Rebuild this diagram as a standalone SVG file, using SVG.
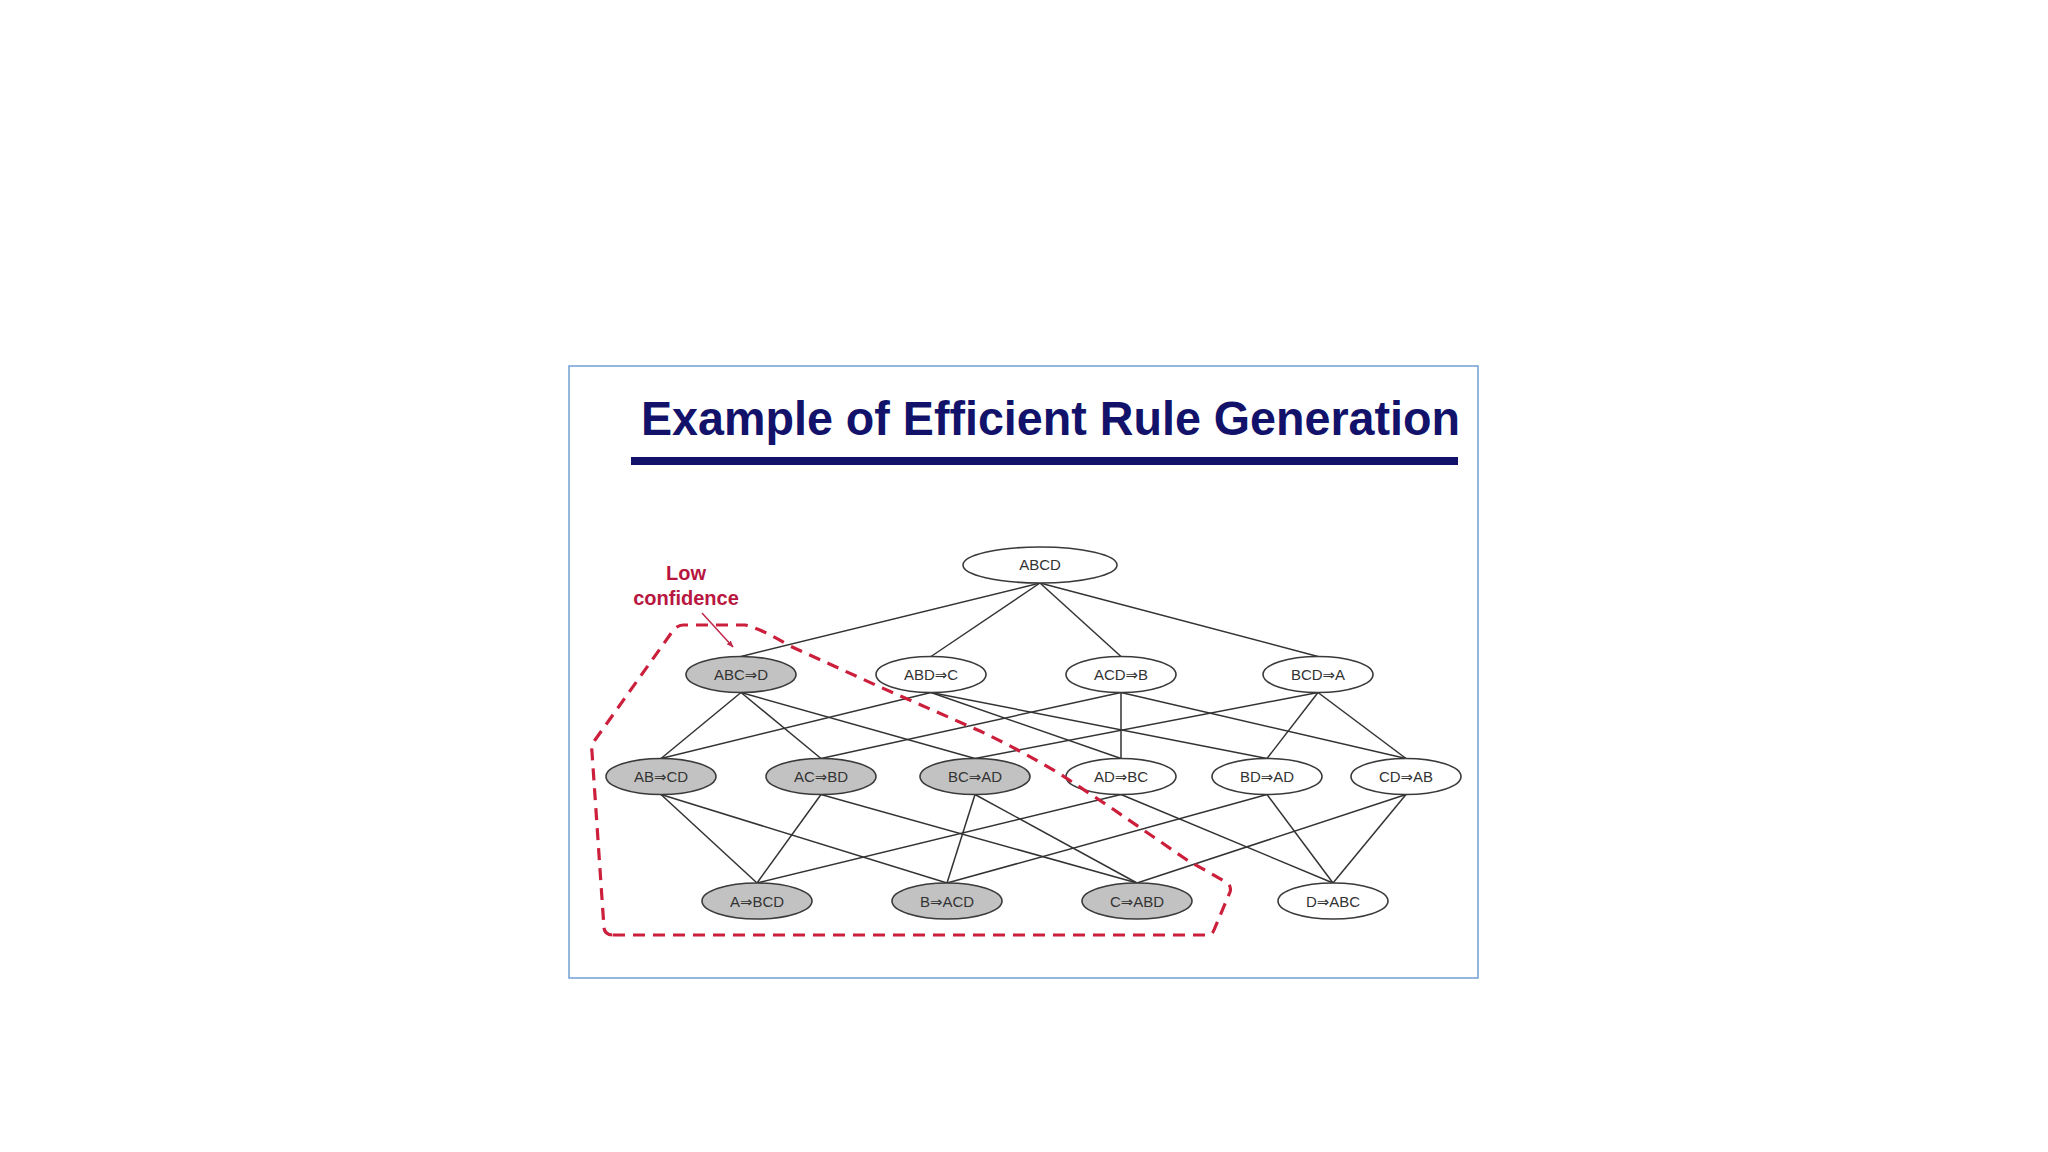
<svg xmlns="http://www.w3.org/2000/svg" width="2048" height="1152" viewBox="0 0 2048 1152">
<defs>
<style>
.node ellipse{stroke:#3a3a3a;stroke-width:1.6}
.low ellipse{fill:#c2c2c2}
.ok ellipse{fill:#ffffff}
.node text{font-family:"Liberation Sans","DejaVu Sans",sans-serif;font-size:15px;fill:#333;text-anchor:middle}
#edges line{stroke:#333;stroke-width:1.5}
.red{fill:#b8163f;font-family:"Liberation Sans",Arial,sans-serif;font-weight:bold;font-size:20px;text-anchor:middle}
</style>
<marker id="ah" viewBox="0 0 10 10" refX="9" refY="5" markerWidth="7" markerHeight="7" orient="auto" markerUnits="userSpaceOnUse">
<path d="M0,1 L10,5 L0,9 Z" fill="#c0284a"/>
</marker>
</defs>
<rect width="2048" height="1152" fill="#ffffff"/>
<rect id="frame" x="569" y="366" width="909" height="612" fill="none" stroke="#7aa6d8" stroke-width="1.6"/>
<text id="title" x="641" y="435" font-family="Liberation Sans,Arial,sans-serif" font-weight="bold" font-size="48" fill="#12126b" textLength="819" lengthAdjust="spacingAndGlyphs">Example of Efficient Rule Generation</text>
<rect id="rule" x="631" y="457" width="827" height="8" fill="#12126b"/>

<g id="edges">
<line x1="1040" y1="583" x2="741" y2="656.5"/>
<line x1="1040" y1="583" x2="931" y2="656.5"/>
<line x1="1040" y1="583" x2="1121" y2="656.5"/>
<line x1="1040" y1="583" x2="1318" y2="656.5"/>
<line x1="741" y1="692.5" x2="661" y2="758.5"/>
<line x1="741" y1="692.5" x2="821" y2="758.5"/>
<line x1="741" y1="692.5" x2="975" y2="758.5"/>
<line x1="931" y1="692.5" x2="661" y2="758.5"/>
<line x1="931" y1="692.5" x2="1121" y2="758.5"/>
<line x1="931" y1="692.5" x2="1267" y2="758.5"/>
<line x1="1121" y1="692.5" x2="821" y2="758.5"/>
<line x1="1121" y1="692.5" x2="1121" y2="758.5"/>
<line x1="1121" y1="692.5" x2="1406" y2="758.5"/>
<line x1="1318" y1="692.5" x2="975" y2="758.5"/>
<line x1="1318" y1="692.5" x2="1267" y2="758.5"/>
<line x1="1318" y1="692.5" x2="1406" y2="758.5"/>
<line x1="661" y1="794.5" x2="757" y2="883"/>
<line x1="661" y1="794.5" x2="947" y2="883"/>
<line x1="821" y1="794.5" x2="757" y2="883"/>
<line x1="821" y1="794.5" x2="1137" y2="883"/>
<line x1="975" y1="794.5" x2="947" y2="883"/>
<line x1="975" y1="794.5" x2="1137" y2="883"/>
<line x1="1121" y1="794.5" x2="757" y2="883"/>
<line x1="1121" y1="794.5" x2="1333" y2="883"/>
<line x1="1267" y1="794.5" x2="947" y2="883"/>
<line x1="1267" y1="794.5" x2="1333" y2="883"/>
<line x1="1406" y1="794.5" x2="1137" y2="883"/>
<line x1="1406" y1="794.5" x2="1333" y2="883"/>
</g>

<g id="n-ABCD" class="node ok"><ellipse cx="1040" cy="565" rx="77" ry="18"/><text x="1040" y="570">ABCD</text></g>
<g id="n-ABC-D" class="node low"><ellipse cx="741" cy="674.5" rx="55" ry="18"/><text x="741" y="680">ABC⇒D</text></g>
<g id="n-ABD-C" class="node ok"><ellipse cx="931" cy="674.5" rx="55" ry="18"/><text x="931" y="680">ABD⇒C</text></g>
<g id="n-ACD-B" class="node ok"><ellipse cx="1121" cy="674.5" rx="55" ry="18"/><text x="1121" y="680">ACD⇒B</text></g>
<g id="n-BCD-A" class="node ok"><ellipse cx="1318" cy="674.5" rx="55" ry="18"/><text x="1318" y="680">BCD⇒A</text></g>
<g id="n-AB-CD" class="node low"><ellipse cx="661" cy="776.5" rx="55" ry="18"/><text x="661" y="782">AB⇒CD</text></g>
<g id="n-AC-BD" class="node low"><ellipse cx="821" cy="776.5" rx="55" ry="18"/><text x="821" y="782">AC⇒BD</text></g>
<g id="n-BC-AD" class="node low"><ellipse cx="975" cy="776.5" rx="55" ry="18"/><text x="975" y="782">BC⇒AD</text></g>
<g id="n-AD-BC" class="node ok"><ellipse cx="1121" cy="776.5" rx="55" ry="18"/><text x="1121" y="782">AD⇒BC</text></g>
<g id="n-BD-AD" class="node ok"><ellipse cx="1267" cy="776.5" rx="55" ry="18"/><text x="1267" y="782">BD⇒AD</text></g>
<g id="n-CD-AB" class="node ok"><ellipse cx="1406" cy="776.5" rx="55" ry="18"/><text x="1406" y="782">CD⇒AB</text></g>
<g id="n-A-BCD" class="node low"><ellipse cx="757" cy="901" rx="55" ry="18"/><text x="757" y="906.5">A⇒BCD</text></g>
<g id="n-B-ACD" class="node low"><ellipse cx="947" cy="901" rx="55" ry="18"/><text x="947" y="906.5">B⇒ACD</text></g>
<g id="n-C-ABD" class="node low"><ellipse cx="1137" cy="901" rx="55" ry="18"/><text x="1137" y="906.5">C⇒ABD</text></g>
<g id="n-D-ABC" class="node ok"><ellipse cx="1333" cy="901" rx="55" ry="18"/><text x="1333" y="906.5">D⇒ABC</text></g>

<g id="low-confidence">
<path d="M613,935 L1208,935 Q1212,935 1214,930 L1230,892 Q1232,886 1226,882 L1187,860 L1110,807 L1060,774 Q1020,750 980,731 L880,687 L790,646 Q760,628 745,625 L683,625 Q677,625 672,632 L595,740 Q591,746 592,752 L604,928 Q605,935 613,935 Z" fill="none" stroke="#cc1f3c" stroke-width="3.2" stroke-dasharray="12 8"/>
<text class="red" x="686" y="580">Low</text>
<text class="red" x="686" y="605">confidence</text>
<line x1="702" y1="613" x2="733" y2="647" stroke="#c0284a" stroke-width="1.5" marker-end="url(#ah)"/>
</g>
</svg>
